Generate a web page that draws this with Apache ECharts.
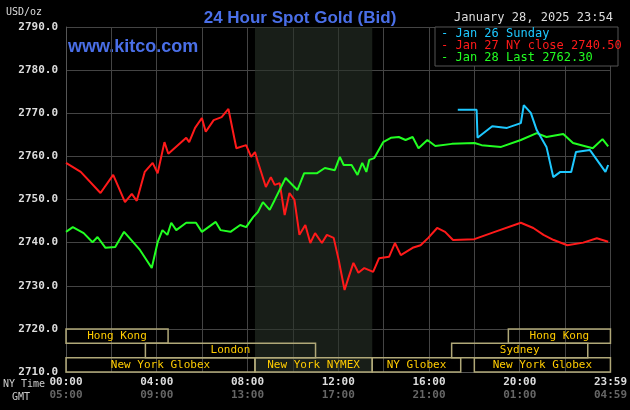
<!DOCTYPE html>
<html>
<head>
<meta charset="utf-8">
<script src="https://cdn.jsdelivr.net/npm/echarts@6/dist/echarts.min.js"></script>
<style>
  html, body { margin: 0; padding: 0; background: #000; overflow: hidden; }
  #chart { width: 630px; height: 410px; }
</style>
</head>
<body>
<div id="chart"></div>
<script>
// hours since 00:00 NY time, price in USD/oz
var jan26 = [[17.27, 2770.8], [18.1, 2770.8], [18.14, 2764.3], [18.79, 2767.0], [19.44, 2766.6],
    [20.05, 2767.7], [20.18, 2771.9], [20.49, 2770.1], [20.75, 2766.1], [21.18, 2762.2],
    [21.48, 2755.2], [21.79, 2756.4], [22.27, 2756.4], [22.48, 2761.0], [23.09, 2761.5],
    [23.78, 2756.4], [23.9, 2758.0]];

var jan27 = [[0, 2758.5], [0.65, 2756.4], [1.52, 2751.5], [2.08, 2755.7], [2.6, 2749.4],
    [2.9, 2751.3], [3.12, 2749.7], [3.47, 2756.4], [3.82, 2758.5], [4.04, 2756.1],
    [4.34, 2763.3], [4.51, 2760.6], [5.3, 2764.3], [5.43, 2763.3], [5.69, 2766.6],
    [5.99, 2768.9], [6.16, 2765.7], [6.51, 2768.4], [6.86, 2769.1], [7.16, 2771.0],
    [7.51, 2761.9], [7.94, 2762.6], [8.16, 2759.9], [8.33, 2761.0], [8.46, 2758.7],
    [8.81, 2752.9], [9.03, 2755.2], [9.2, 2753.4], [9.42, 2753.8], [9.64, 2746.4],
    [9.85, 2751.5], [10.07, 2749.9], [10.29, 2741.8], [10.55, 2744.1], [10.77, 2739.9],
    [10.98, 2742.2], [11.28, 2739.9], [11.5, 2741.8], [11.8, 2741.1], [12.02, 2736.0],
    [12.15, 2732.5], [12.28, 2729.0], [12.46, 2732.0], [12.67, 2735.3], [12.89, 2733.0],
    [13.15, 2734.1], [13.54, 2733.2], [13.8, 2736.4], [14.24, 2736.7], [14.5, 2739.9],
    [14.76, 2737.1], [15.28, 2738.8], [15.63, 2739.4], [15.97, 2741.1], [16.36, 2743.4],
    [16.71, 2742.5], [17.06, 2740.6], [18.0, 2740.8], [18.9, 2742.5], [20.05, 2744.6],
    [20.6, 2743.4], [21.05, 2741.8], [21.5, 2740.6], [22.1, 2739.4], [22.8, 2740.0],
    [23.4, 2741.0], [23.9, 2740.2]];

var jan28 = [[0, 2742.5], [0.3, 2743.6], [0.78, 2742.2], [1.17, 2740.1], [1.39, 2741.3],
    [1.74, 2738.8], [2.17, 2739.0], [2.56, 2742.5], [3.26, 2738.3], [3.78, 2734.1],
    [4.04, 2740.1], [4.25, 2742.9], [4.47, 2741.8], [4.64, 2744.6], [4.86, 2742.9],
    [5.3, 2744.6], [5.73, 2744.6], [5.99, 2742.5], [6.6, 2744.8], [6.81, 2742.9],
    [7.25, 2742.5], [7.68, 2744.1], [7.94, 2743.6], [8.25, 2745.9], [8.46, 2747.1],
    [8.68, 2749.4], [8.98, 2747.6], [9.2, 2749.9], [9.68, 2755.0], [10.2, 2752.2],
    [10.5, 2756.1], [11.07, 2756.1], [11.41, 2757.3], [11.85, 2756.8], [12.07, 2759.9],
    [12.24, 2758.0], [12.59, 2758.0], [12.85, 2755.7], [13.06, 2758.5], [13.24, 2756.4],
    [13.37, 2759.2], [13.59, 2759.6], [13.98, 2763.3], [14.32, 2764.3], [14.67, 2764.5],
    [14.97, 2763.8], [15.28, 2764.5], [15.54, 2761.9], [15.93, 2763.8], [16.28, 2762.4],
    [17.01, 2762.9], [18.01, 2763.1], [18.32, 2762.6], [19.18, 2762.2], [20.05, 2763.8],
    [20.75, 2765.4], [21.18, 2764.5], [21.92, 2765.2], [22.35, 2763.1], [23.22, 2761.9],
    [23.65, 2764.0], [23.9, 2762.3]];

// [start hour, end hour, row, name]
var sessions = [[0, 4.5, 0, 'Hong Kong'], [19.5, 24, 0, 'Hong Kong'],
    [3.5, 11, 1, 'London'], [17, 23, 1, 'Sydney'],
    [0, 8.33, 2, 'New York Globex'], [8.33, 13.5, 2, 'New York NYMEX'],
    [13.5, 17.4, 2, 'NY Globex'], [18, 24, 2, 'New York Globex']];

var nyTicks = { 0: '00:00', 4: '04:00', 8: '08:00', 12: '12:00', 16: '16:00', 20: '20:00', 24: '23:59' };
var gmtTicks = { 0: '05:00', 4: '09:00', 8: '13:00', 12: '17:00', 16: '21:00', 20: '01:00', 24: '04:59' };

var mono = 'DejaVu Sans Mono';
var chart = echarts.init(document.getElementById('chart'));

chart.setOption({
    backgroundColor: '#000',
    animation: false,
    title: {
        text: '24 Hour Spot Gold (Bid)',
        left: 295, top: 5, textAlign: 'center',
        textStyle: { color: '#4a6fe8', fontFamily: 'Liberation Sans', fontSize: 17, fontWeight: 'bold' }
    },
    grid: { left: 66, right: 4, top: 27, bottom: 38 },
    xAxis: {
        type: 'value', min: 0, max: 24, interval: 2,
        axisLine: { lineStyle: { color: '#555' } },
        axisTick: { show: false },
        splitLine: { lineStyle: { color: '#444' } },
        axisLabel: {
            margin: 4,
            formatter: function (v) {
                if (nyTicks[v] === undefined) return '';
                return '{a|' + nyTicks[v] + '}\n{b|' + gmtTicks[v] + '}';
            },
            rich: {
                a: { color: '#ddd', fontFamily: mono, fontSize: 11, fontWeight: 'bold', lineHeight: 13 },
                b: { color: '#666', fontFamily: mono, fontSize: 11, fontWeight: 'bold', lineHeight: 13 }
            }
        }
    },
    yAxis: {
        type: 'value', min: 2710, max: 2790, interval: 10,
        axisLine: { show: true, lineStyle: { color: '#555' } },
        axisTick: { show: false },
        splitLine: { lineStyle: { color: '#444' } },
        axisLabel: {
            color: '#ddd', fontFamily: mono, fontSize: 11, fontWeight: 'bold', margin: 8,
            formatter: function (v) { return v.toFixed(1); }
        }
    },
    graphic: [
        { type: 'text', left: 6, top: 7, style: { text: 'USD/oz', fill: '#ddd', font: '10px ' + mono } },
        { type: 'text', left: 68, top: 38, style: { text: 'www.kitco.com', fill: '#4a6fe8', font: 'bold 18px Liberation Sans' } },
        { type: 'text', left: 454, top: 12, style: { text: 'January 28, 2025 23:54', fill: '#ddd', font: '12px ' + mono } },
        { type: 'rect', shape: { x: 435, y: 27, width: 183, height: 39 }, style: { fill: '#000', stroke: '#555' }, z: 50 },
        { type: 'text', left: 441, top: 28, z: 51, style: { text: '- Jan 26 Sunday', fill: '#1ec8ff', font: '12px ' + mono } },
        { type: 'text', left: 441, top: 40, z: 51, style: { text: '- Jan 27 NY close 2740.50', fill: '#ff1a1a', font: '12px ' + mono } },
        { type: 'text', left: 441, top: 52, z: 51, style: { text: '- Jan 28 Last 2762.30', fill: '#22ff22', font: '12px ' + mono } },
        { type: 'text', left: 3, top: 379, style: { text: 'NY Time', fill: '#ccc', font: '10px ' + mono } },
        { type: 'text', left: 12, top: 392, style: { text: 'GMT', fill: '#ccc', font: '10px ' + mono } }
    ],
    series: [
        {
            type: 'custom',
            data: sessions,
            z: 1,
            renderItem: function (params, api) {
                var top = 2720 - api.value(2) * (10 / 3);
                var p1 = api.coord([api.value(0), top]);
                var p2 = api.coord([api.value(1), top - 10 / 3]);
                return {
                    type: 'group',
                    children: [{
                        type: 'rect',
                        shape: { x: p1[0], y: p1[1], width: p2[0] - p1[0], height: p2[1] - p1[1] },
                        style: { fill: 'none', stroke: '#b0a878', lineWidth: 1.5 }
                    }, {
                        type: 'text',
                        style: {
                            text: sessions[params.dataIndex][3],
                            x: (p1[0] + p2[0]) / 2, y: (p1[1] + p2[1]) / 2,
                            align: 'center', verticalAlign: 'middle',
                            fill: '#ffcc00', font: '11px ' + mono
                        }
                    }]
                };
            }
        },
        {
            type: 'line', data: jan27, showSymbol: false, z: 3,
            lineStyle: { color: '#ff1a1a', width: 2 },
            markArea: {
                silent: true,
                itemStyle: { color: 'rgba(40,50,40,0.6)' },
                data: [[{ xAxis: 8.33 }, { xAxis: 13.5 }]]
            }
        },
        { type: 'line', data: jan28, showSymbol: false, z: 4, lineStyle: { color: '#22ff22', width: 2 } },
        { type: 'line', data: jan26, showSymbol: false, z: 5, lineStyle: { color: '#1ec8ff', width: 2 } }
    ]
});
</script>
</body>
</html>
